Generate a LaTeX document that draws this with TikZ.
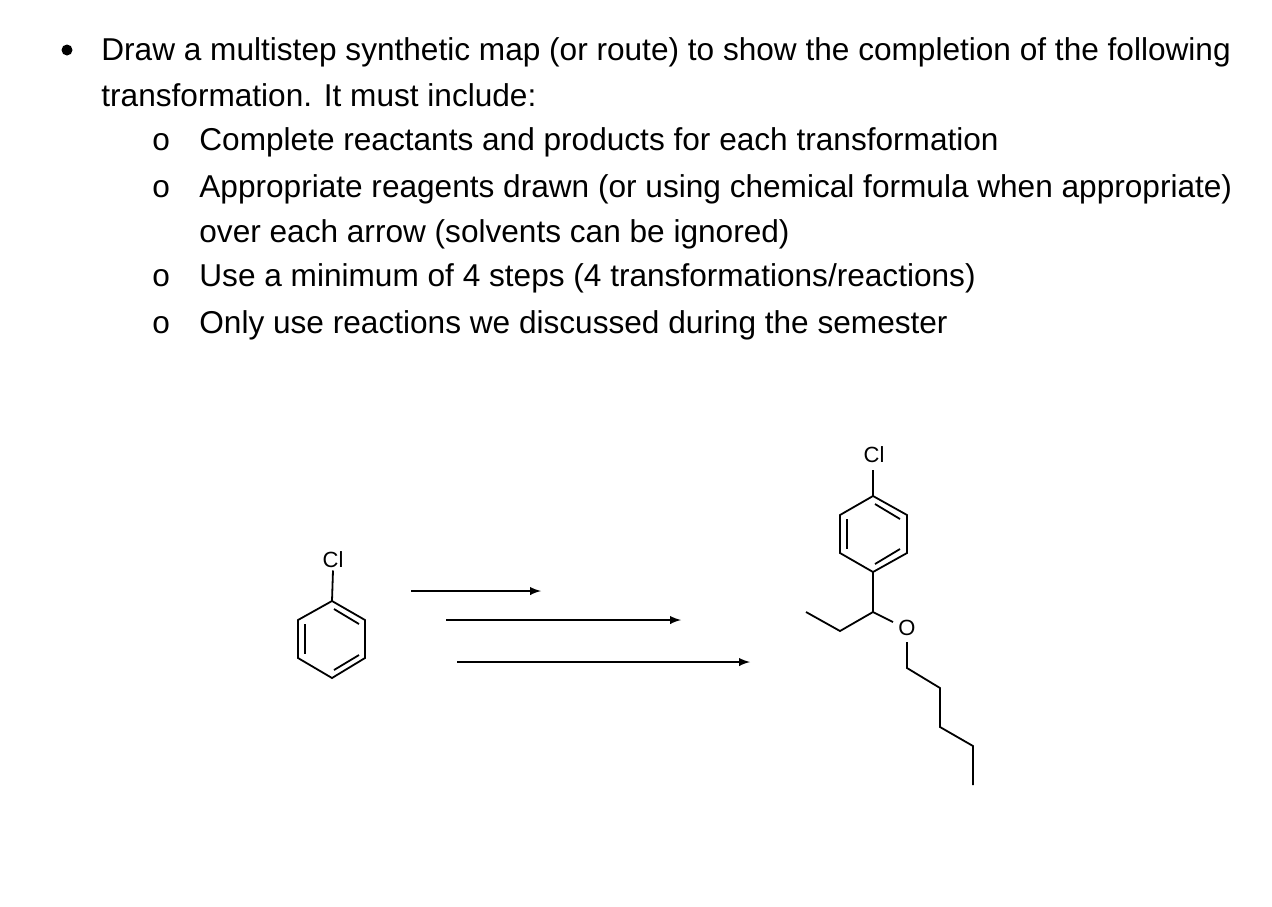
\documentclass[tikz,border=0pt]{standalone}
\usepackage{fontspec}
\setmainfont{Liberation Sans}
\begin{document}
\begin{tikzpicture}[x=0.5pt,y=-0.5pt,
  txt/.style={anchor=base west,inner sep=0pt,font=\fontsize{15.8pt}{18pt}\selectfont},
  atom/.style={inner sep=1pt,font=\fontsize{11pt}{12pt}\selectfont},
  bond/.style={line width=0.9pt},
  rxn/.style={line width=0.9pt,-latex}]
\useasboundingbox (0,0) rectangle (1272,906);
\fill (67,50) circle (5.5);
\node[txt] (l1) at (101,60) {Draw a multistep synthetic map (or route) to show the completion of the following};
\node[txt] (l2) at (101,106) {transformation.  It must include:};
\node[txt] (b1) at (152,150) {o};
\node[txt] (s1) at (199,150) {Complete reactants and products for each transformation};
\node[txt] (b2) at (152,197) {o};
\node[txt] (s2) at (199,197) {Appropriate reagents drawn (or using chemical formula when appropriate)};
\node[txt] (s2b) at (199,242) {over each arrow (solvents can be ignored)};
\node[txt] (b3) at (152,286) {o};
\node[txt] (s3) at (199,286) {Use a minimum of 4 steps (4 transformations/reactions)};
\node[txt] (b4) at (152,333) {o};
\node[txt] (s4) at (199,333) {Only use reactions we discussed during the semester};
% reactant
\node[atom] (cl1) at (333,560) {Cl};
\draw[bond] (cl1.south) -- (332,601);
\draw[bond] (332,601) -- (298,620) -- (298,658) -- (332,678) -- (365,658) -- (365,620) -- cycle;
\draw[bond] (305,624) -- (305,654);
\draw[bond] (334,609) -- (359,624);
\draw[bond] (334,670) -- (359,655);
% arrows
\coordinate (a1s) at (411,591); \coordinate (a1e) at (541,591);
\coordinate (a2s) at (446,620); \coordinate (a2e) at (681,620);
\coordinate (a3s) at (457,662); \coordinate (a3e) at (750,662);
\draw[rxn] (a1s) -- (a1e);
\draw[rxn] (a2s) -- (a2e);
\draw[rxn] (a3s) -- (a3e);
% product
\node[atom] (cl2) at (874,455) {Cl};
\draw[bond] (873,470) -- (873,496);
\draw[bond] (873,496) -- (840,515) -- (840,553) -- (873,572) -- (907,553) -- (907,515) -- cycle;
\draw[bond] (847,519) -- (847,549);
\draw[bond] (875,504) -- (900,519);
\draw[bond] (875,564) -- (900,549);
\draw[bond] (873,572) -- (873,612) -- (840,631) -- (806,612);
\node[atom] (o) at (907,628) {O};
\draw[bond] (873,612) -- (893,622);
\draw[bond] (907,642) -- (907,668) -- (940,688) -- (940,727) -- (973,746) -- (973,785);
\end{tikzpicture}
\end{document}
